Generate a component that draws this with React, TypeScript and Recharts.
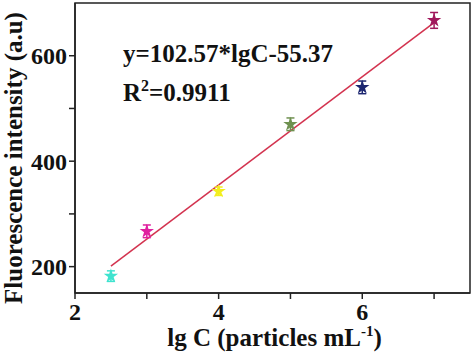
import React from "react"
import {
  ScatterChart,
  Scatter,
  XAxis,
  YAxis,
  ZAxis,
  ErrorBar,
  ReferenceLine,
  ReferenceArea,
} from "recharts"

// lg C values and measured fluorescence intensity
const lgC = [2.5, 3, 4, 5, 6, 7]
const intensity = [182, 267, 343, 470, 540, 667]
const errors = [10, 12, 8, 12, 12, 15]
const pointColors = ["#3fe3cf", "#e0209f", "#f2ee1e", "#6f9150", "#1c2670", "#a0185c"]

const xTicks = [2, 3, 4, 5, 6, 7]
const yTicks = [200, 300, 400, 500, 600]

// fitted line
const slope = 102.57
const intercept = -55.37
const fitRange = [2.5, 7]

const FONT = "'Liberation Serif', 'Times New Roman', serif"

const tickStyle = { fontFamily: FONT, fontWeight: "bold", fontSize: 24, fill: "#111" }

function XTitle(props: any) {
  const { viewBox } = props
  const cx = viewBox.x + viewBox.width / 2 + 2
  return (
    <text x={cx} y={346} textAnchor="middle" fontFamily={FONT} fontWeight="bold" fontSize={25} fill="#111">
      <tspan>lg C (particles mL</tspan>
      <tspan dy={-10} fontSize={15}>-1</tspan>
      <tspan dy={10}>)</tspan>
    </text>
  )
}

function YTitle() {
  return (
    <text
      x={0}
      y={0}
      transform="translate(22,158) rotate(-90)"
      textAnchor="middle"
      fontFamily={FONT}
      fontWeight="bold"
      fontSize={25}
      fill="#111"
    >
      Fluorescence intensity (a.u)
    </text>
  )
}

export default function App() {
  const points = lgC.map((x, i) => ({ x, y: intensity[i], err: errors[i] }))

  return (
    <div style={{ position: "absolute", left: 0, top: 0, width: 474, height: 356, background: "#fff" }}>
      <ScatterChart width={474} height={356} margin={{ top: 3, right: 4, bottom: 0, left: 0 }}>
        <XAxis
          type="number"
          dataKey="x"
          domain={[2, 7.5]}
          ticks={xTicks}
          tickFormatter={(v: number) => (v % 2 === 0 ? String(v) : "")}
          height={63}
          tick={tickStyle}
          tickSize={6}
          tickMargin={4}
          axisLine={{ stroke: "#222", strokeWidth: 1.5 }}
          tickLine={{ stroke: "#222", strokeWidth: 1.5 }}
          label={<XTitle />}
          allowDataOverflow
        />
        <YAxis
          type="number"
          dataKey="y"
          domain={[150, 700]}
          ticks={yTicks}
          tickFormatter={(v: number) => (v % 200 === 0 ? String(v) : "")}
          width={75}
          tick={tickStyle}
          tickSize={6}
          tickMargin={2}
          axisLine={{ stroke: "#222", strokeWidth: 1.5 }}
          tickLine={{ stroke: "#222", strokeWidth: 1.5 }}
          label={<YTitle />}
          allowDataOverflow
        />
        <ZAxis range={[45, 45]} />
        <ReferenceArea
          x1={2}
          x2={7.5}
          y1={150}
          y2={700}
          fill="none"
          stroke="#222"
          strokeWidth={1.5}
          ifOverflow="visible"
        />
        <ReferenceLine
          segment={[
            { x: fitRange[0], y: slope * fitRange[0] + intercept },
            { x: fitRange[1], y: slope * fitRange[1] + intercept },
          ]}
          stroke="#d3334f"
          strokeWidth={1.5}
          ifOverflow="visible"
        />
        {points.map((p, i) => (
          <Scatter
            key={i}
            data={[p]}
            fill={pointColors[i]}
            shape="star"
            isAnimationActive={false}
          >
            <ErrorBar dataKey="err" direction="y" width={4} stroke={pointColors[i]} strokeWidth={1.5} />
          </Scatter>
        ))}
        <text x={123} y={62} fontFamily={FONT} fontWeight="bold" fontSize={25} fill="#111">
          y=102.57*lgC-55.37
        </text>
        <text x={123} y={101} fontFamily={FONT} fontWeight="bold" fontSize={25} fill="#111">
          <tspan>R</tspan>
          <tspan dy={-10} fontSize={16}>2</tspan>
          <tspan dy={10}>=0.9911</tspan>
        </text>
      </ScatterChart>
    </div>
  )
}
